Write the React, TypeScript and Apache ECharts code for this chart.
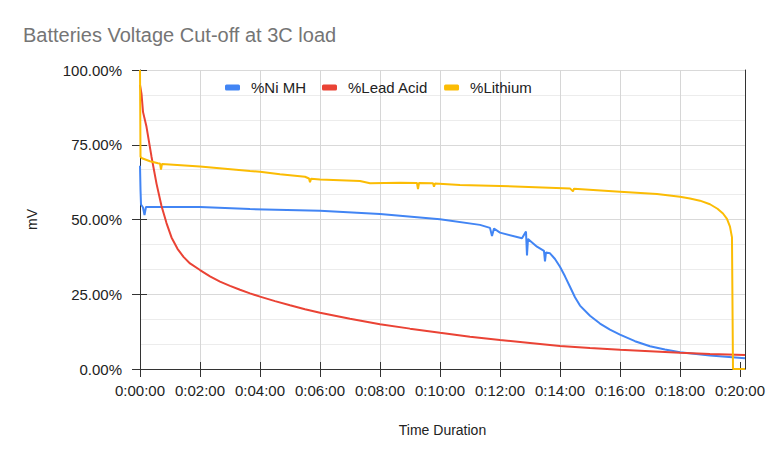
import React, { useEffect, useRef } from "react";
import * as echarts from "echarts";

// time in seconds
const xTicks = [0, 120, 240, 360, 480, 600, 720, 840, 960, 1080, 1200];
const yTicks = [0, 25, 50, 75, 100];

const nimhTime = [0, 1, 2, 6, 9, 12, 120, 220, 360, 480, 600, 680, 700, 704, 708, 720, 764, 772, 774, 776, 794, 808, 810, 812, 820, 830, 840, 850, 860, 870, 880, 900, 920, 940, 960, 990, 1020, 1050, 1080, 1140, 1210];
const nimhValues = [68, 60, 55, 54, 51.5, 54.2, 54.2, 53.5, 52.9, 51.8, 50.1, 48.2, 47.2, 44.5, 47, 45.6, 43.7, 46, 38, 43.5, 40.9, 39.5, 36, 39, 38.7, 36.8, 34.2, 31, 27.5, 24, 21.2, 17.8, 15.2, 13.2, 11.5, 9.3, 7.6, 6.5, 5.6, 4.5, 3.6];

const leadTime = [0, 3, 6, 13, 23, 33, 43, 53, 63, 75, 87, 100, 120, 140, 160, 180, 200, 220, 240, 270, 300, 330, 360, 420, 480, 540, 600, 660, 720, 780, 840, 900, 960, 1020, 1080, 1140, 1210];
const leadValues = [95, 92, 86, 81, 71, 62, 54.5, 48.8, 44, 40.2, 37.5, 35.3, 33.1, 31, 29.2, 27.8, 26.5, 25.3, 24.2, 22.7, 21.3, 20, 18.8, 16.8, 15, 13.5, 12.1, 10.8, 9.7, 8.7, 7.7, 7, 6.4, 5.9, 5.4, 5, 4.7];

const lithTime = [0, 1, 4, 20, 36, 40, 42, 44, 120, 220, 240, 280, 330, 338, 340, 342, 360, 440, 460, 520, 554, 556, 558, 586, 588, 590, 640, 720, 860, 866, 868, 960, 1034, 1080, 1100, 1120, 1140, 1155, 1166, 1174, 1180, 1184, 1186, 1210];
const lithValues = [100, 71, 70.5, 69.5, 68.8, 68.7, 66.7, 68.6, 67.7, 66.2, 66, 65.1, 64.3, 63.7, 62.5, 63.6, 63.4, 62.9, 62.1, 62.3, 62.2, 60.2, 62.2, 62.1, 61, 62, 61.5, 61.2, 60.4, 59.4, 60.3, 59.3, 58.5, 57.6, 57, 56.3, 55.1, 53.6, 52, 50.2, 47.6, 44, 0, 0];

const seriesNames = ["%Ni MH", "%Lead Acid", "%Lithium"];
const seriesColors = ["#4285f4", "#ea4335", "#fbbc04"];

const pad = (n: number) => (n < 10 ? "0" + n : "" + n);
const fmtTime = (v: number) =>
  `${Math.floor(v / 3600)}:${pad(Math.floor((v % 3600) / 60))}:${pad(Math.round(v % 60))}`;

const zip = (t: number[], v: number[]) => t.map((x, i) => [x, v[i]]);

export default function App() {
  const ref = useRef<HTMLDivElement>(null);
  useEffect(() => {
    if (!ref.current) return;
    const chart = echarts.init(ref.current, null, { renderer: "svg" });
    const font = "Liberation Sans, Arial, sans-serif";
    const datasets = [zip(nimhTime, nimhValues), zip(leadTime, leadValues), zip(lithTime, lithValues)];
    chart.setOption({
      animation: false,
      backgroundColor: "#ffffff",
      textStyle: { fontFamily: font },
      title: {
        text: "Batteries Voltage Cut-off at 3C load",
        left: 18,
        top: 20,
        textStyle: { color: "#757575", fontSize: 20, fontWeight: "normal", fontFamily: font },
      },
      legend: {
        left: 220,
        top: 75,
        itemWidth: 15,
        itemHeight: 6,
        itemGap: 16,
        icon: "roundRect",
        textStyle: { color: "#222", fontSize: 15, fontFamily: font, padding: [0, 0, 0, 6] },
        data: seriesNames,
      },
      grid: { left: 140, right: 23, top: 70, bottom: 96, containLabel: false },
      xAxis: [
        {
          type: "value",
          min: 0,
          max: 1210,
          interval: 120,
          position: "bottom",
          name: "Time Duration",
          nameLocation: "middle",
          nameGap: 54,
          nameTextStyle: { color: "#222", fontSize: 14, fontFamily: font },
          axisLine: { show: true, lineStyle: { color: "#333", width: 1 } },
          axisTick: { show: true, length: 8, lineStyle: { color: "#333" }, customValues: xTicks },
          axisLabel: {
            color: "#222",
            fontSize: 15,
            margin: 14,
            fontFamily: font,
            customValues: xTicks,
            formatter: (v: number) => fmtTime(v),
          },
          splitLine: { show: true, showMaxLine: false, lineStyle: { color: "#d6d6d6" } },
        },
        {
          type: "value",
          min: 0,
          max: 1210,
          interval: 120,
          position: "bottom",
          axisLine: { show: false },
          axisTick: { show: true, inside: true, length: 7, lineStyle: { color: "#333" }, customValues: xTicks },
          axisLabel: { show: false },
          splitLine: { show: false },
        },
      ],
      yAxis: [
        {
          type: "value",
          min: 0,
          max: 100,
          interval: 25,
          position: "left",
          name: "mV",
          nameLocation: "middle",
          nameGap: 101,
          nameTextStyle: { color: "#222", fontSize: 14, fontFamily: font },
          axisLine: { show: true, lineStyle: { color: "#333", width: 1 } },
          axisTick: { show: true, length: 8, lineStyle: { color: "#333" } },
          axisLabel: {
            color: "#222",
            fontSize: 15,
            margin: 18,
            fontFamily: font,
            customValues: yTicks,
            formatter: (v: number) => v.toFixed(2) + "%",
          },
          splitLine: { show: true, lineStyle: { color: "#d9d9d9" } },
          minorTick: { show: false, splitNumber: 3 },
          minorSplitLine: { show: true, lineStyle: { color: "#ececec" } },
        },
        {
          type: "value",
          min: 0,
          max: 100,
          interval: 25,
          position: "left",
          axisLine: { show: false },
          axisTick: { show: true, inside: true, length: 7, lineStyle: { color: "#333" } },
          axisLabel: { show: false },
          splitLine: { show: false },
        },
        {
          type: "value",
          min: 0,
          max: 100,
          interval: 25,
          position: "right",
          axisLine: { show: true, lineStyle: { color: "#333", width: 1 } },
          axisTick: { show: false },
          axisLabel: { show: false },
          splitLine: { show: false },
        },
      ],
      series: seriesNames.map((name, i) => ({
        name,
        type: "line",
        xAxisIndex: 0,
        yAxisIndex: 0,
        data: datasets[i],
        showSymbol: false,
        symbol: "none",
        color: seriesColors[i],
        lineStyle: { color: seriesColors[i], width: 2 },
        z: 2 + i,
      })),
    });
    return () => chart.dispose();
  }, []);
  return (
    <div
      ref={ref}
      style={{ position: "fixed", left: 0, top: 0, width: 768, height: 465 }}
    />
  );
}
